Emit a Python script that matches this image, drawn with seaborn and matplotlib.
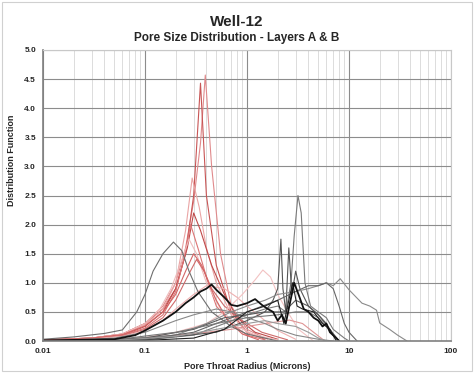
import numpy as np
import pandas as pd
import matplotlib
matplotlib.use("Agg")
import matplotlib.pyplot as plt
from matplotlib.ticker import LogLocator, FixedLocator, NullFormatter
import seaborn as sns

# Layer A samples (red) - pore throat radius (microns) vs distribution function
red_x = [
    [0.01, 0.03, 0.06, 0.1, 0.15, 0.2, 0.25, 0.3, 0.35, 0.39, 0.45, 0.55, 0.7, 1.0, 1.5],
    [0.01, 0.03, 0.06, 0.1, 0.15, 0.2, 0.25, 0.3, 0.35, 0.4, 0.5, 0.7, 1.0, 1.5],
    [0.01, 0.03, 0.06, 0.1, 0.15, 0.2, 0.25, 0.29, 0.34, 0.4, 0.5, 0.7, 1.0, 1.6],
    [0.01, 0.03, 0.06, 0.1, 0.15, 0.2, 0.26, 0.3, 0.35, 0.45, 0.6, 0.8, 1.2, 2.0],
    [0.01, 0.03, 0.06, 0.1, 0.15, 0.2, 0.24, 0.28, 0.33, 0.4, 0.5, 0.7, 1.0, 1.5],
    [0.01, 0.03, 0.06, 0.1, 0.14, 0.18, 0.22, 0.27, 0.32, 0.4, 0.55, 0.8, 1.2, 2.0],
    [0.01, 0.03, 0.06, 0.1, 0.15, 0.2, 0.26, 0.32, 0.38, 0.45, 0.6, 0.9, 1.4, 2.5],
    [0.01, 0.03, 0.06, 0.1, 0.15, 0.2, 0.3, 0.4, 0.6, 0.8, 1.0, 1.5, 2.0, 3.0],
    [0.01, 0.05, 0.1, 0.2, 0.4, 0.6, 0.9, 1.2, 1.43, 1.7, 2.0, 2.5, 3.2, 4.5],
    [0.01, 0.05, 0.1, 0.2, 0.4, 0.7, 1.0, 1.5, 2.0, 2.6, 3.5, 4.5, 5.8],
    [0.01, 0.03, 0.06, 0.1, 0.15, 0.2, 0.25, 0.3, 0.36, 0.42, 0.5, 0.65, 0.9, 1.3],
]
red_y = [
    [0.02, 0.05, 0.12, 0.3, 0.6, 1.0, 1.6, 2.4, 3.4, 4.57, 3.0, 1.5, 0.6, 0.2, 0.05],
    [0.02, 0.05, 0.12, 0.3, 0.55, 0.9, 1.5, 2.5, 4.43, 2.5, 1.3, 0.5, 0.15, 0.03],
    [0.02, 0.05, 0.12, 0.28, 0.55, 1.0, 1.9, 2.8, 2.3, 1.6, 1.0, 0.45, 0.15, 0.03],
    [0.02, 0.05, 0.1, 0.25, 0.5, 0.9, 1.6, 2.2, 1.9, 1.3, 0.8, 0.4, 0.15, 0.03],
    [0.02, 0.04, 0.1, 0.22, 0.45, 0.85, 1.4, 2.0, 1.6, 1.1, 0.6, 0.3, 0.1, 0.02],
    [0.02, 0.05, 0.12, 0.3, 0.55, 0.9, 1.3, 1.75, 1.5, 1.0, 0.55, 0.25, 0.1, 0.02],
    [0.02, 0.04, 0.09, 0.2, 0.4, 0.7, 1.1, 1.4, 1.2, 0.9, 0.6, 0.35, 0.15, 0.02],
    [0.02, 0.04, 0.08, 0.18, 0.35, 0.55, 0.8, 0.95, 0.9, 0.75, 0.6, 0.35, 0.18, 0.03],
    [0.0, 0.02, 0.06, 0.15, 0.3, 0.5, 0.8, 1.05, 1.22, 1.1, 0.8, 0.5, 0.2, 0.0],
    [0.0, 0.02, 0.05, 0.1, 0.15, 0.2, 0.25, 0.3, 0.33, 0.36, 0.3, 0.15, 0.0],
    [0.02, 0.05, 0.11, 0.26, 0.5, 0.8, 1.2, 1.5, 1.3, 1.0, 0.7, 0.35, 0.12, 0.02],
]
red_colors = ["#e08a8c", "#c85555", "#eaa5a5", "#bf4a4a", "#dc7575", "#efbcbc",
              "#cf6a6a", "#eeb0b0", "#f2c2c2", "#df9595", "#d46565"]

# Layer B samples (grey / black)
grey_x = [
    [0.01, 0.02, 0.04, 0.06, 0.083, 0.1, 0.12, 0.15, 0.19, 0.23, 0.27, 0.33, 0.45, 0.7, 1.0, 1.5, 2.0],
    [0.01, 0.1, 0.3, 0.6, 1.0, 1.5, 2.0, 2.4, 2.7, 2.9, 3.16, 3.4, 3.7, 4.2, 5.0, 6.0, 7.0, 9.0, 10.0],
    [0.01, 0.1, 0.5, 1.0, 1.5, 1.8, 2.0, 2.15, 2.25, 2.4, 2.57, 2.75, 3.0, 3.3, 4.0, 5.0, 6.0, 7.0, 8.0],
    [0.01, 0.05, 0.2, 0.4, 0.7, 1.0, 1.5, 2.0, 3.0, 4.0, 5.0, 6.0, 7.0, 8.2, 10.0, 13.4, 16.0, 18.6, 20.0, 25.0, 30.0, 37.0],
    [0.01, 0.1, 0.3, 0.5, 1.0, 2.0, 3.0, 4.0, 5.0, 6.0, 7.0, 8.0, 9.0, 10.0, 12.0],
    [0.01, 0.05, 0.1, 0.2, 0.3, 0.5, 0.7, 1.0, 1.5, 2.0, 3.0, 5.0, 7.0],
    [0.01, 0.1, 0.3, 0.6, 1.0, 1.5, 2.3, 3.0, 4.0, 5.0, 6.5, 8.0],
    [0.01, 0.05, 0.2, 0.5, 1.0, 2.0, 3.0, 4.0, 5.0, 6.0, 7.0, 8.0],
    [0.01, 0.05, 0.2, 0.5, 1.0, 1.5, 2.0, 3.0, 4.0, 5.0, 6.0],
    [0.01, 0.1, 0.3, 0.6, 1.0, 1.5, 2.0, 2.3, 2.5, 2.8, 3.1, 3.5, 4.5, 5.5, 6.5, 7.5],
]
grey_y = [
    [0.03, 0.07, 0.13, 0.19, 0.5, 0.8, 1.2, 1.5, 1.7, 1.55, 1.2, 0.85, 0.5, 0.25, 0.12, 0.05, 0.0],
    [0.0, 0.02, 0.1, 0.3, 0.45, 0.55, 0.6, 0.5, 1.0, 1.8, 2.5, 2.2, 1.0, 0.6, 0.5, 0.4, 0.2, 0.05, 0.0],
    [0.0, 0.02, 0.15, 0.35, 0.5, 0.7, 0.9, 1.75, 0.9, 0.5, 1.6, 0.8, 1.2, 0.9, 0.6, 0.45, 0.3, 0.1, 0.0],
    [0.0, 0.02, 0.1, 0.3, 0.5, 0.6, 0.7, 0.8, 0.85, 0.9, 0.95, 1.0, 0.95, 1.07, 0.88, 0.65, 0.6, 0.53, 0.31, 0.2, 0.1, 0.0],
    [0.0, 0.03, 0.15, 0.3, 0.5, 0.7, 0.85, 0.95, 0.95, 1.0, 0.9, 0.6, 0.3, 0.15, 0.0],
    [0.0, 0.05, 0.15, 0.35, 0.45, 0.55, 0.5, 0.4, 0.3, 0.2, 0.1, 0.03, 0.0],
    [0.0, 0.05, 0.2, 0.4, 0.45, 0.5, 0.5, 0.7, 0.6, 0.45, 0.2, 0.0],
    [0.0, 0.02, 0.15, 0.3, 0.4, 0.45, 0.5, 0.5, 0.4, 0.25, 0.1, 0.0],
    [0.0, 0.01, 0.08, 0.2, 0.3, 0.35, 0.3, 0.25, 0.15, 0.05, 0.0],
    [0.0, 0.01, 0.05, 0.2, 0.5, 0.6, 0.7, 0.3, 0.6, 1.0, 0.6, 0.55, 0.5, 0.3, 0.2, 0.0],
]
grey_colors = ["#6e6e6e", "#7a7a7a", "#555555", "#8a8a8a", "#666666", "#888888",
               "#5a5a5a", "#777777", "#999999", "#222222"]

# thick black sample
black_x = [0.01, 0.05, 0.08, 0.1, 0.15, 0.2, 0.25, 0.3, 0.35, 0.4, 0.45, 0.5, 0.6, 0.7, 0.8, 1.0,
           1.2, 1.4, 1.6, 1.8, 2.0, 2.2, 2.4, 2.6, 2.9, 3.2, 3.6, 4.0, 4.5, 5.0, 5.5, 6.0, 6.5, 7.5, 8.0]
black_y = [0.01, 0.03, 0.1, 0.18, 0.35, 0.5, 0.65, 0.75, 0.85, 0.9, 0.97, 0.88, 0.75, 0.62, 0.6, 0.65,
           0.72, 0.62, 0.55, 0.5, 0.35, 0.45, 0.3, 0.6, 1.0, 0.8, 0.55, 0.5, 0.4, 0.35, 0.25, 0.3, 0.15, 0.05, 0.0]

sns.set_style("white")
plt.rcParams['font.family'] = ['Liberation Sans', 'DejaVu Sans']

fig = plt.figure(figsize=(4.74, 3.75), dpi=100)
ax = fig.add_axes([43 / 474, 1 - 341 / 375, 408 / 474, 291 / 375])

for xs, ys, c in zip(red_x, red_y, red_colors):
    sns.lineplot(x=xs, y=ys, ax=ax, color=c, lw=0.8, sort=False, estimator=None)
for xs, ys, c in zip(grey_x, grey_y, grey_colors):
    sns.lineplot(x=xs, y=ys, ax=ax, color=c, lw=0.8, sort=False, estimator=None)
sns.lineplot(x=black_x, y=black_y, ax=ax, color="#111111", lw=1.3, sort=False, estimator=None)

ax.set_xscale("log")
ax.set_xlim(0.01, 100)
ax.set_ylim(0, 5.0)
ax.xaxis.set_major_locator(FixedLocator([0.01, 0.1, 1, 10, 100]))
ax.set_xticklabels(["0.01", "0.1", "1", "10", "100"])
ax.xaxis.set_minor_locator(LogLocator(base=10, subs=np.arange(2, 10)))
ax.xaxis.set_minor_formatter(NullFormatter())
ax.set_yticks(np.arange(0, 5.01, 0.5))
ax.set_yticklabels([f"{v:.1f}" for v in np.arange(0, 5.01, 0.5)])

ax.grid(True, which="major", axis="both", color="#8c8c8c", lw=0.8)
ax.grid(True, which="minor", axis="x", color="#dcdcdc", lw=0.7)
ax.set_axisbelow(True)
for s in ["top", "right"]:
    ax.spines[s].set_color("#c8c8c8")
    ax.spines[s].set_linewidth(0.8)
for s in ["left", "bottom"]:
    ax.spines[s].set_color("#808080")
    ax.spines[s].set_linewidth(1.2)

ax.tick_params(axis="both", which="major", labelsize=6, length=3, color="#808080", pad=2)
ax.tick_params(axis="x", which="minor", length=0)
for lbl in ax.get_xticklabels() + ax.get_yticklabels():
    lbl.set_fontweight("bold")

ax.set_xlabel("Pore Throat Radius (Microns)", fontsize=6.5, fontweight="bold", labelpad=5)
fig.text(12 / 474, 1 - 160 / 375, "Distribution Function", rotation=90, ha="center", va="center",
         fontsize=6.5, fontweight="bold")

fig.text(0.5, 1 - 22 / 375, "Well-12", ha="center", va="center", fontsize=11, fontweight="bold")
fig.text(0.5, 1 - 38 / 375, "Pore Size Distribution - Layers A & B", ha="center", va="center",
         fontsize=8.5, fontweight="bold")

fig.patches.append(plt.Rectangle((0.004, 0.01), 0.992, 0.985, transform=fig.transFigure,
                                 fill=False, ec="#d0d0d0", lw=0.8))

fig.savefig("out.png", dpi=100)
